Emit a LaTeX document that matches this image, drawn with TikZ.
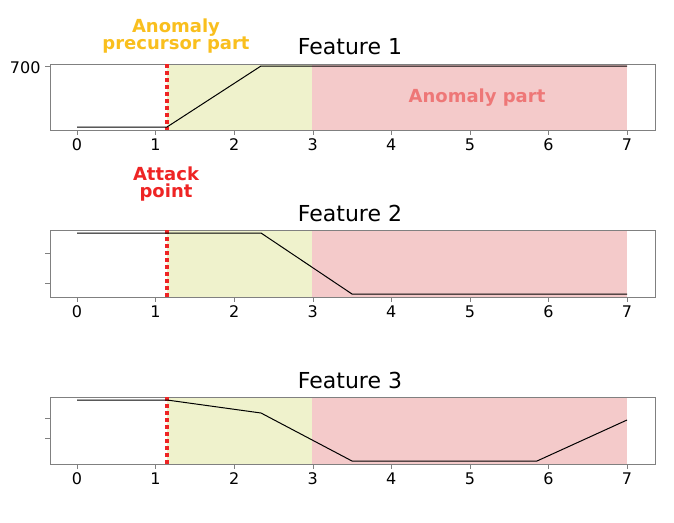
\documentclass[tikz,border=0pt]{standalone}
\usepackage{fontspec}
\setmainfont{DejaVu Sans}
\definecolor{yshade}{HTML}{EFF2CC}
\definecolor{pshade}{HTML}{F4CACA}
\definecolor{preclr}{HTML}{F9BF1E}
\definecolor{attclr}{HTML}{EE2424}
\definecolor{apclr}{HTML}{EE7777}
\begin{document}
\begin{tikzpicture}[x=1pt,y=-1pt,
  tick/.style={font=\fontsize{16}{18}\selectfont},
  ttl/.style={font=\fontsize{22}{24}\selectfont},
  ann/.style={font=\bfseries\fontsize{18}{20}\selectfont,align=center}]
\useasboundingbox (0,0) rectangle (674,522);
\def\ux{78.57}
\foreach \top/\bot/\tl/\nm in {64/130/1/a,230/297/2/b,397/464/3/c}{
  \fill[yshade] (167,\top) rectangle (312,\bot);
  \fill[pshade] (312,\top) rectangle (627,\bot);
  \draw[gray,line width=1pt] (50,\top) rectangle (655,\bot);
  \draw[attclr,line width=3.5pt,dash pattern=on 3.5pt off 3.5pt] (167,\top) -- (167,\bot);
  \foreach \i in {0,...,7}{
    \draw[gray] ({77+\i*\ux},\bot) -- ({77+\i*\ux},\bot+5);
    \node[tick] at ({77+\i*\ux},\bot+15) {\i};}
  \node[ttl] (t\nm) at (350,\top-17) {Feature \tl};
}
\draw[gray] (45,66) -- (50,66); \node[tick,anchor=east] (y700) at (44,68) {700};
\draw[gray] (45,253)--(50,253) (45,283)--(50,283) (45,418)--(50,418) (45,438)--(50,438);
\draw[line width=1pt] (77,127) -- (167,127) -- (261,66) -- (627,66);
\draw[line width=1pt] (77,233) -- (261,233) -- (352,294) -- (627,294);
\draw[line width=1pt] (77,400) -- (167,400) -- (261,413) -- (352,461) -- (537,461) -- (627,420);
\node[ann,text=preclr] (pre) at (176,36) {Anomaly\\[-3pt]precursor part};
\node[ann,text=attclr] (att) at (166,184) {Attack\\[-3pt]point};
\node[ann,text=apclr] (ap) at (477,98) {Anomaly part};
\end{tikzpicture}
\end{document}
